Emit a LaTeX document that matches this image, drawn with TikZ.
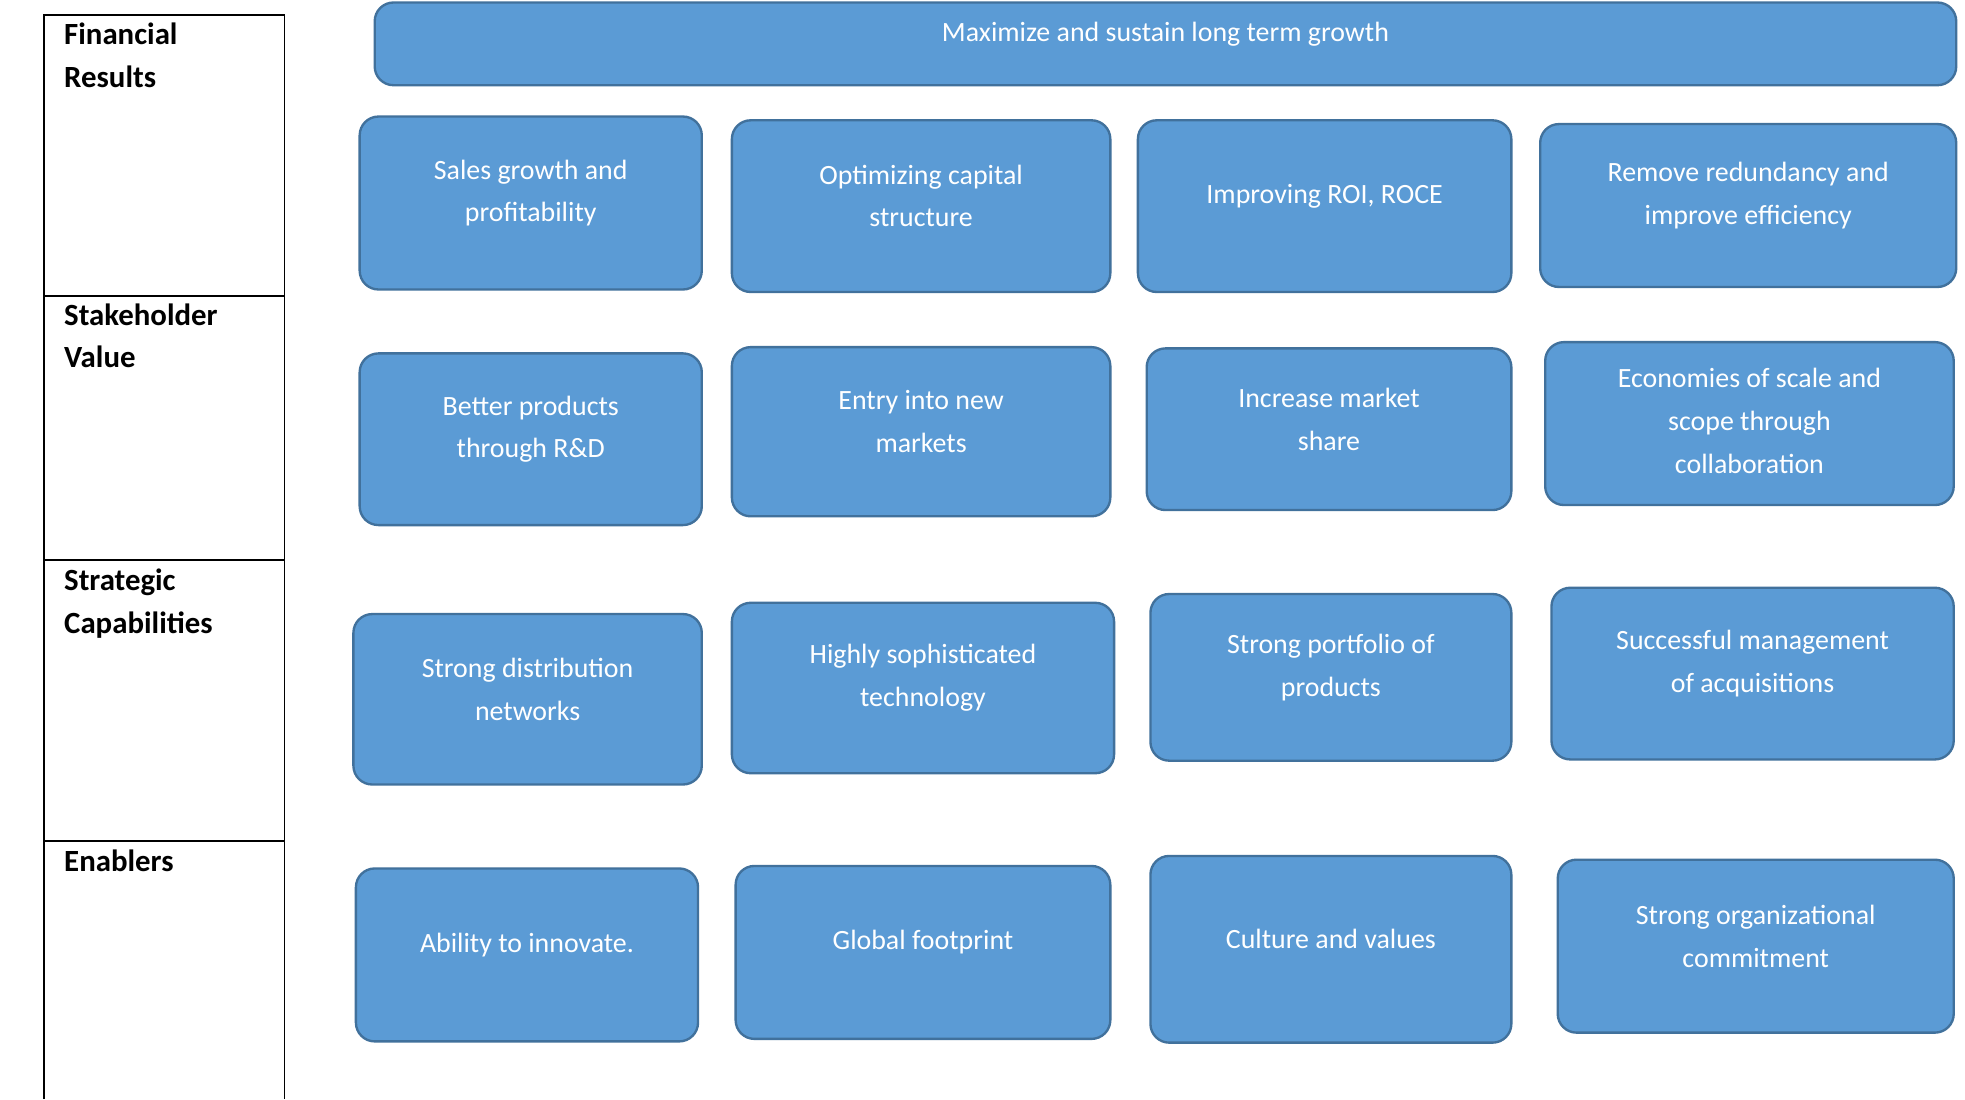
\documentclass[tikz,border=0pt]{standalone}
\usepackage{fontspec}
\setmainfont{Carlito}
\begin{document}
\begin{tikzpicture}[x=0.03cm,y=-0.03cm,
  bx/.style={draw=boxline,fill=boxfill,line width=1.6pt,rounded corners=0.45cm},
  tx/.style={text=white,font=\fontsize{19}{29}\selectfont,align=center},
  lb/.style={anchor=north west,font=\fontsize{21}{29}\selectfont\bfseries,align=left,inner sep=0pt}]
\definecolor{boxfill}{HTML}{5B9BD5}
\definecolor{boxline}{HTML}{41719C}
\useasboundingbox (0,0) rectangle (1568,877);
\fill[white] (0,0) rectangle (1568,877);
% left column
\draw[line width=1.2pt] (35,877) -- (35,12) -- (227,12) -- (227,877);
\draw[line width=1.2pt] (35,236) -- (227,236) (35,447) -- (227,447) (35,671) -- (227,671);
\node[lb] (l1) at (51,18) {Financial\\Results};
\node[lb] (l2) at (51,242) {Stakeholder\\Value};
\node[lb] (l3) at (51,454) {Strategic\\Capabilities};
\node[lb] (l4) at (51,678) {Enablers};
\newcommand{\mybox}[6]{%
  \draw[bx] (#1,#2) rectangle (#3,#4);
  \node[tx] (#5) at ({(#1+#3)/2},{(#2+#4)/2-8}) {#6};}
\mybox{299}{2}{1561}{68}{top}{Maximize and sustain long term growth}
\mybox{287}{93}{560}{231}{a1}{Sales growth and\\profitability}
\mybox{584}{96}{886}{233}{a2}{Optimizing capital\\structure}
\mybox{908}{96}{1206}{233}{a3}{Improving ROI, ROCE}
\mybox{1229}{99}{1561}{229}{a4}{Remove redundancy and\\improve efficiency}
\mybox{287}{282}{560}{419}{b1}{Better products\\through R\&D}
\mybox{584}{277}{886}{412}{b2}{Entry into new\\markets}
\mybox{915}{278}{1206}{407}{b3}{Increase market\\share}
\draw[bx] (1233,273) rectangle (1559,403);
\begin{scope}
\clip (1233,273) rectangle (1559,384);
\node[tx,anchor=north] (b4) at (1396,290) {Economies of scale and\\scope through\\collaboration};
\end{scope}
\mybox{282}{490}{560}{626}{c1}{Strong distribution\\networks}
\mybox{584}{481}{889}{617}{c2}{Highly sophisticated\\technology}
\mybox{918}{474}{1206}{607}{c3}{Strong portfolio of\\products}
\mybox{1238}{469}{1559}{606}{c4}{Successful management\\of acquisitions}
\mybox{284}{693}{557}{831}{d1}{Ability to innovate.}
\mybox{587}{691}{886}{829}{d2}{Global footprint}
\mybox{918}{683}{1206}{832}{d3}{Culture and values}
\mybox{1243}{686}{1559}{824}{d4}{Strong organizational\\commitment}
\end{tikzpicture}
\end{document}
